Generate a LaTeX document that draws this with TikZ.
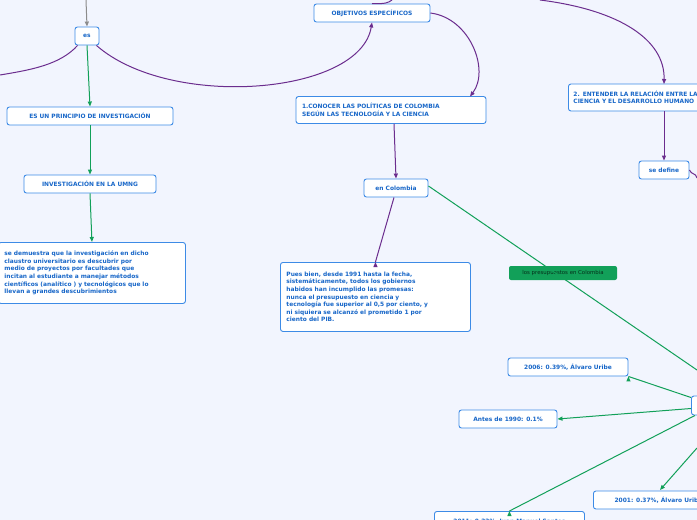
\documentclass[tikz,border=0pt]{standalone}
\usepackage{fontspec}
\setmainfont{DejaVu Sans}
\usetikzlibrary{arrows.meta}
\definecolor{bg}{HTML}{F2F5FE}
\definecolor{bd}{HTML}{3D8BE6}
\definecolor{tx}{HTML}{1766C8}
\definecolor{pu}{HTML}{6B2D8E}
\definecolor{gr}{HTML}{12A059}
\definecolor{gy}{HTML}{8C8C8C}
\tikzset{
  box/.style={draw=bd,fill=white,rounded corners=2.5pt,line width=0.9pt,text=tx,font=\fontsize{5.9}{7.6}\selectfont\bfseries,inner xsep=5pt,inner ysep=0pt,minimum height=18pt},
  para/.style={box,align=left,inner ysep=4pt,inner xsep=6pt},
  pl/.style={draw=pu,line width=1pt,-{Triangle[length=5pt,width=4pt]}},
  gl/.style={draw=gr,line width=1pt,-{Triangle[length=5pt,width=4pt]}},
}
\begin{document}
\begin{tikzpicture}[x=1pt,y=-1pt]
\useasboundingbox[fill=bg] (0,0) rectangle (697,520);
\node[box,minimum width=24pt] (es) at (87,36) {es};
\node[box,minimum width=166pt] (prin) at (90,116) {ES UN PRINCIPIO DE INVESTIGACIÓN};
\node[box,minimum width=132pt] (inv) at (90,184) {INVESTIGACIÓN EN LA UMNG};
\node[para,anchor=north west,text width=175pt,minimum height=61pt] (dem) at (-2,242) {se demuestra que la investigación en dicho\\claustro universitario es descubrir por\\medio de proyectos por facultades que\\incitan al estudiante a manejar métodos\\científicos (analítico ) y tecnológicos que lo\\llevan a grandes descubrimientos};
\node[box,minimum width=116pt] (obj) at (372,13) {OBJETIVOS ESPECÍFICOS};
\node[box,align=left,minimum width=190pt,minimum height=27pt,text width=178pt] (con) at (391,110) {1.CONOCER LAS POLÍTICAS DE COLOMBIA\\SEGÚN LAS TECNOLOGÍA Y LA CIENCIA};
\node[box,minimum width=64pt] (col) at (396,188) {en Colombia};
\node[para,anchor=north west,text width=178pt,minimum height=69pt] (pues) at (280,262) {Pues bien, desde 1991 hasta la fecha,\\sistemáticamente, todos los gobiernos\\habidos han incumplido las promesas:\\nunca el presupuesto en ciencia y\\tecnología fue superior al 0,5 por ciento, y\\ni siquiera se alcanzó el prometido 1 por\\ciento del PIB.};
\node[fill=gr,rounded corners=2pt,text=black!70!gr,font=\fontsize{5.4}{7}\selectfont,minimum width=108pt,minimum height=14pt,inner sep=0pt] (lab) at (563,273) {los presupuestos en Colombia};
\node[box,align=left,anchor=west,minimum height=27pt,text width=180pt] (ent) at (568,97.5) {2. ENTENDER LA RELACIÓN ENTRE LA\\CIENCIA Y EL DESARROLLO HUMANO};
\node[box,minimum width=50pt] (def) at (664,170) {se define};
\node[box,anchor=west,minimum width=40pt,minimum height=19pt] (hub) at (691,405.5) {};
\node[box,minimum width=120pt] (y06) at (568,367) {2006: 0.39\%, Álvaro Uribe};
\node[box,minimum width=98pt] (y90) at (508,419) {Antes de 1990: 0.1\%};
\node[box,anchor=west,minimum width=130pt] (y01) at (593,500) {2001: 0.37\%, Álvaro Uribe};
\node[box,anchor=north west,minimum width=150pt,minimum height=20pt,inner ysep=0pt] (y11) at (434,511) {2011: 0.22\%, Juan Manuel Santos};
\coordinate (top1) at (86,0);
\coordinate (left1) at (0,75);
\coordinate (top2) at (392,0);
\coordinate (top3) at (540,0);
\coordinate (right1) at (697,178);
\coordinate (right2) at (697,370);
\coordinate (conin) at (470,96.5);
\coordinate (entin) at (664,84);
\draw[draw=gy,line width=1pt,-{Triangle[length=5pt,width=4pt]}] (top1) -- (es.north);
\draw[draw=pu,line width=1pt] (es.south west) ++(3,0) .. controls (60,65) and (30,70) .. (left1);
\draw[pl] (es.south east) ++(-3,0) .. controls (170,110) and (360,95) .. (obj.south);
\draw[draw=pu,line width=1pt] (top2) .. controls (388,3) and (385,4) .. (obj.north);
\draw[pl] (obj.east) .. controls (470,18) and (490,70) .. (conin);
\draw[pl] (top3) .. controls (620,10) and (665,40) .. (entin);
\draw[pl] (con.south) ++(3,0) -- (col.north);
\draw[pl] (col.south) ++(-2,0) -- (pues.north) ++(0,0);
\draw[pl] (entin) ++(0,27) -- (def.north);
\draw[draw=pu,line width=1pt] (def.east) .. controls (693,176) and (695,172) .. (right1);
\draw[gl] (es.south) -- (prin.north);
\draw[gl] (prin.south) -- (inv.north);
\draw[gl] (inv.south) -- (dem.north);
\draw[draw=gr,line width=1pt] (col.east) ++(0,-2) -- (right2);
\draw[gl] (hub.west) ++(0,-8) -- (y06.south east) ++(0,0);
\draw[gl] (hub.west) ++(0,3) -- (y90.east);
\draw[gl] (hub.south west) ++(4,0) -- (y11.north) ++(0,0);
\draw[gl] (697,448) -- (660,490);
\end{tikzpicture}
\end{document}
